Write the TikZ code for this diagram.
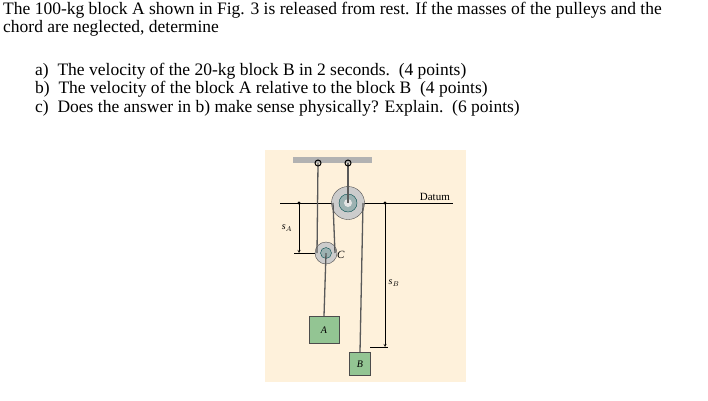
\documentclass[tikz,border=0pt]{standalone}
\usepackage{fontspec}
\setmainfont{Liberation Serif}
\begin{document}
\begin{tikzpicture}[x=1pt,y=-1pt,
  txt/.style={anchor=west,inner sep=0pt,font=\fontsize{17.5}{18}\selectfont},
  rope/.style={draw=gray!70!black,line width=1.3pt},
  blk/.style={draw=black!70,fill=green!30!gray!65,inner sep=0pt},
  dim/.style={draw=black,line width=0.4pt}]
\useasboundingbox (0,0) rectangle (708,400);
\node[txt] (t1) at (3,10) {The 100-kg block A shown in Fig. 3 is released from rest. If the masses of the pulleys and the};
\node[txt] (t2) at (3,28) {chord are neglected, determine};
\node[txt] (ia) at (35,71) {a)\enspace The velocity of the 20-kg block B in 2 seconds.\enspace (4 points)};
\node[txt] (ib) at (35,89) {b)\enspace The velocity of the block A relative to the block B\enspace (4 points)};
\node[txt] (ic) at (35,108) {c)\enspace Does the answer in b) make sense physically? Explain.\enspace (6 points)};
% figure
\fill[yellow!15!orange!12] (265,150) rectangle (466,382);
\fill[gray!60] (293,157) rectangle (372,163);
\coordinate (h1) at (318,163);
\coordinate (h2) at (348,163);
\draw[dim] (280,203) -- (453,203);
\node[anchor=south east,inner sep=1pt,font=\fontsize{11}{11}\selectfont] (dat) at (451,202) {Datum};
\fill (299,203) circle (1.7);
\fill (385,203) circle (1.7);
% pulleys
\node[circle,draw=gray!60!black,fill=gray!40,minimum size=33pt,inner sep=0pt] (P) at (348,203) {};
\node[circle,draw=teal!60!black,fill=teal!30!gray!60,minimum size=18pt,inner sep=0pt] at (348,203) {};
\node[circle,fill=gray!20,minimum size=8pt,inner sep=0pt] at (348,203) {};
\node[circle,draw=gray!60!black,fill=gray!40,minimum size=22pt,inner sep=0pt] (C) at (326,253) {};
\node[circle,draw=teal!60!black,fill=teal!30!gray!60,minimum size=11pt,inner sep=0pt] at (326,253) {};
\node[anchor=west,inner sep=1pt,font=\itshape\fontsize{11}{11}\selectfont] (cl) at (336,255) {C};
% ropes
\draw[rope] (h1) -- (317,253);
\draw[rope] (335,253) -- (333,203);
\draw[rope] (h2) -- (348,203);
\draw[rope] (363,203) -- (360,352);
\draw[rope] (326,253) -- (324,316);
% blocks
\node[blk,minimum width=30pt,minimum height=27pt] (A) at (324,330) {\itshape A};
\node[blk,minimum width=21pt,minimum height=23pt] (B) at (360,364) {\itshape B};
\draw[line width=1pt] (h1) circle (3); \draw[line width=1pt] (h2) circle (3);
% dimensions
\draw[dim,->,>=stealth] (299,203) -- (299,253);
\draw[dim] (294,253) -- (315,253);
\node[font=\itshape\fontsize{10}{10}\selectfont] (sa) at (287,228) {s$_A$};
\draw[dim,->,>=stealth] (385,203) -- (385,347);
\draw[dim] (370,347) -- (388,347);
\node[font=\itshape\fontsize{10}{10}\selectfont] (sb) at (394,283) {s$_B$};
\end{tikzpicture}
\end{document}
